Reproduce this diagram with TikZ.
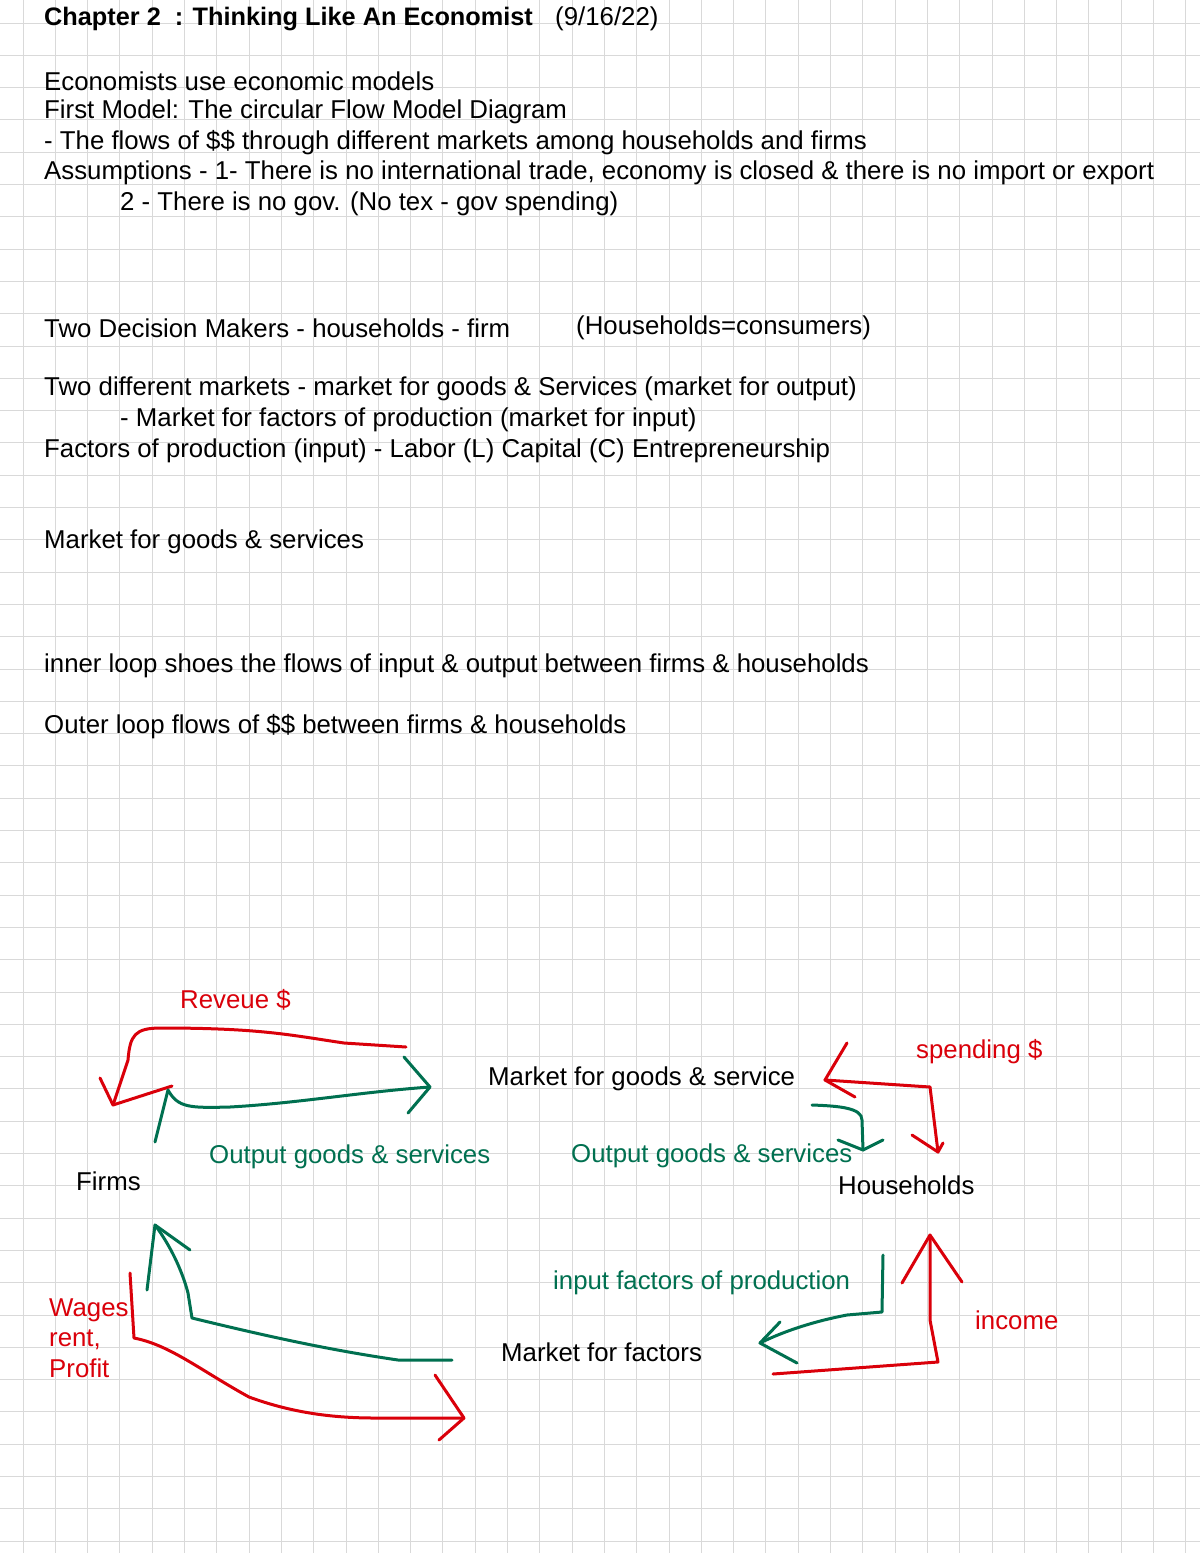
\documentclass[tikz,border=0pt]{standalone}
\usepackage{fontspec}
\setmainfont{Liberation Sans}
\definecolor{rd}{RGB}{218,0,10}
\definecolor{gn}{RGB}{0,112,80}
\begin{document}
\begin{tikzpicture}[x=1pt,y=-1pt,
  txt/.style={anchor=west,inner sep=0pt,font=\fontsize{25.8}{29}\selectfont},
  rl/.style={rd,line width=3pt,line cap=round,line join=round},
  gl/.style={gn,line width=3pt,line cap=round,line join=round}]
\useasboundingbox (0,0) rectangle (1200,1553);
\fill[white] (0,0) rectangle (1200,1553);
\foreach \k in {0,...,37} {\draw[black!15,line width=1pt] ({23+32.3*\k},0) -- ({23+32.3*\k},1553);}
\foreach \k in {0,...,47} {\draw[black!15,line width=1pt] (0,{23+32.3*\k}) -- (1200,{23+32.3*\k});}
% text
\node[txt,font=\fontsize{25.3}{29}\selectfont\bfseries] (t0) at (44,19) {Chapter 2\ \ : Thinking Like An Economist};
\node[txt] (t0b) at (555,19) {(9/16/22)};
\node[txt] (t1) at (44,81) {Economists use economic models};
\node[txt] (t2) at (44,112) {First Model: The circular Flow Model Diagram};
\node[txt] (t3) at (44,143) {- The flows of \$\$ through different markets among households and firms};
\node[txt] (t4) at (44,173) {Assumptions - 1- There is no international trade, economy is closed \& there is no import or export};
\node[txt] (t5) at (120,204) {2 - There is no gov. (No tex - gov spending)};
\node[txt] (t6) at (44,328) {Two Decision Makers - households - firm};
\node[txt] (t6b) at (576,328) {(Households=consumers)};
\node[txt] (t7) at (44,389) {Two different markets - market for goods \& Services (market for output)};
\node[txt] (t8) at (120,420) {- Market for factors of production (market for input)};
\node[txt] (t9) at (44,451) {Factors of production (input) - Labor (L) Capital (C) Entrepreneurship};
\node[txt] (t10) at (44,542) {Market for goods \& services};
\node[txt] (t11) at (44,666) {inner loop shoes the flows of input \& output between firms \& households};
\node[txt] (t12) at (44,727) {Outer loop flows of \$\$ between firms \& households};
% diagram labels
\node[txt,rd] (rev) at (180,1000) {Reveue \$};
\node[txt] (mg) at (488,1079) {Market for goods \& service};
\node[txt,rd] (sp) at (916,1052) {spending \$};
\node[txt,gn] (o1) at (209,1157) {Output goods \& services};
\node[txt,gn] (o2) at (571,1156) {Output goods \& services};
\node[txt] (firms) at (76,1181) {Firms};
\node[txt] (hh) at (838,1185) {Households};
\node[txt,gn] (inp) at (553,1283) {input factors of production};
\node[txt,rd,align=left,font=\fontsize{25.8}{30.5}\selectfont] (wg) at (49,1338) {Wages\\rent,\\Profit};
\node[txt] (mf) at (501,1352) {Market for factors};
\node[txt,rd] (inc) at (975,1320) {income};
% red top
\coordinate (rt) at (113,1105);
\draw[rl] (406,1047) -- (344,1043) .. controls (290,1035) and (260,1028) .. (161,1028) .. controls (135,1028) and (130,1035) .. (128,1060) -- (rt);
\draw[rl] (100,1078) -- (rt) -- (172,1086);
% green top
\coordinate (gt) at (430,1087);
\draw[gl] (155,1142) -- (168,1090) .. controls (178,1108) and (190,1108) .. (230,1107) .. controls (300,1103) and (360,1092) .. (gt);
\draw[gl] (404,1057) -- (gt) -- (408,1113);
% green bottom-left
\coordinate (gb) at (155,1225);
\draw[gl] (452,1360) -- (398,1360) .. controls (330,1350) and (270,1337) .. (192,1318) -- (188,1293) .. controls (182,1270) and (170,1245) .. (gb);
\draw[gl] (147,1290) -- (gb) -- (190,1250);
% red bottom-left
\coordinate (rb) at (464,1418);
\draw[rl] (130,1273) -- (134,1338) .. controls (170,1345) and (200,1370) .. (249,1397) .. controls (290,1412) and (330,1418) .. (375,1418) -- (rb);
\draw[rl] (435,1375) -- (rb) -- (439,1440);
% red spending
\coordinate (rs) at (825,1080);
\coordinate (rd2) at (938,1152);
\draw[rl] (930,1087) -- (rs);
\draw[rl] (930,1087) -- (rd2);
\draw[rl] (847,1043) -- (rs) -- (855,1097);
\draw[rl] (912,1135) -- (rd2) -- (943,1143);
% green right top
\coordinate (gr) at (863,1150);
\draw[gl] (812,1105) .. controls (840,1106) and (862,1108) .. (862,1120) -- (gr);
\draw[gl] (838,1140) -- (gr) -- (883,1140);
% green input
\coordinate (gi) at (760,1343);
\draw[gl] (883,1255) -- (882,1312) -- (847,1315) .. controls (810,1322) and (780,1333) .. (gi);
\draw[gl] (780,1322) -- (gi) -- (797,1363);
% red income
\coordinate (ri) at (930,1235);
\draw[rl] (773,1374) -- (938,1362) -- (930,1320) -- (ri);
\draw[rl] (902,1283) -- (ri) -- (962,1282);
\end{tikzpicture}
\end{document}
